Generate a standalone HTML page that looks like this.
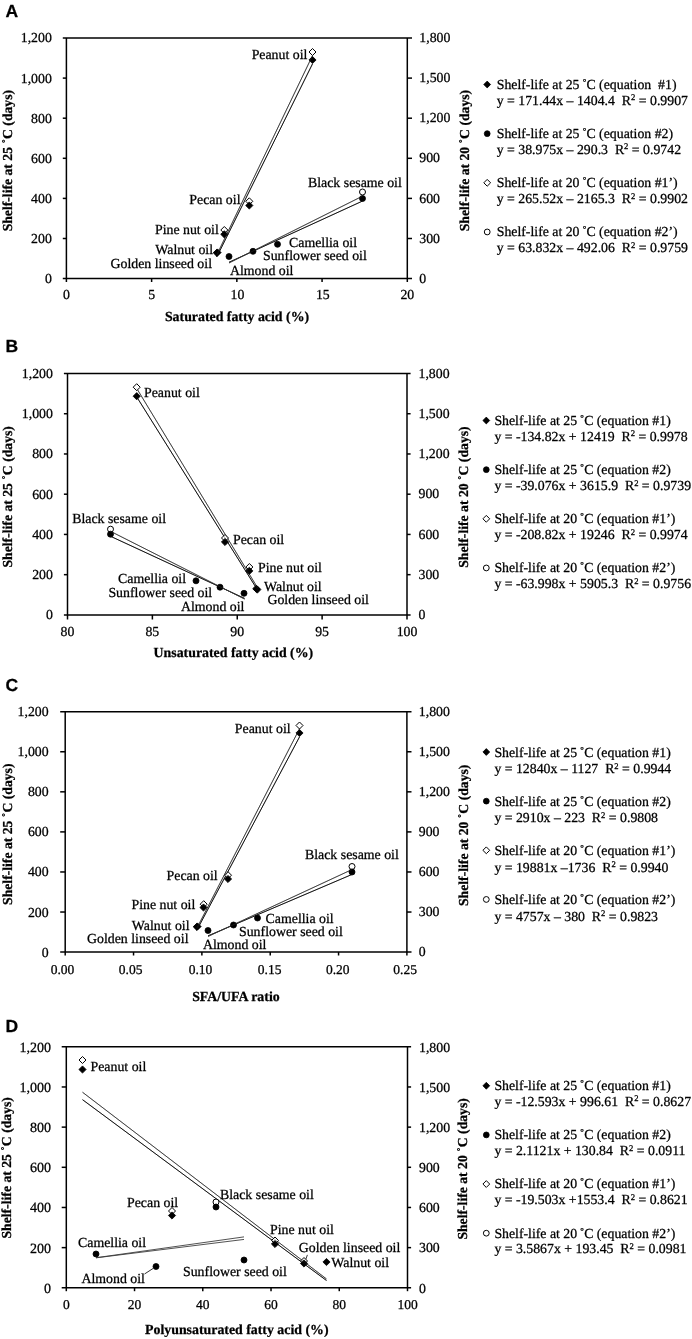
<!DOCTYPE html>
<html lang="en">
<head>
<meta charset="utf-8">
<title>Shelf-life vs fatty acid composition</title>
<style>
html,body{margin:0;padding:0;background:#fff;}
body{width:692px;height:1339px;overflow:hidden;}
svg{display:block;}
text{fill:#000;font-family:"Liberation Serif", "DejaVu Serif", serif;font-size:13.8px;white-space:pre;text-rendering:geometricPrecision;stroke:#000;stroke-width:0.26px;stroke-linejoin:round;}
text.b{font-weight:bold;font-size:13.7px;}
text.l{font-size:13.85px;}
text.p{font-family:"Liberation Sans", "DejaVu Sans", sans-serif;font-weight:bold;font-size:17.5px;fill:#000;}
.sup{font-size:8.6px;}
</style>
</head>
<body>
<svg width="692" height="1339" viewBox="0 0 692 1339">
<rect x="0" y="0" width="692" height="1339" fill="#fff"/>
<g id="panel-A">
<text class="p" x="5.50" y="16.50">A</text>
<line x1="62.80" y1="38.00" x2="412.00" y2="38.00" stroke="#000" stroke-width="1.5"/>
<line x1="62.80" y1="278.60" x2="412.00" y2="278.60" stroke="#000" stroke-width="1.5"/>
<line x1="66.40" y1="38.00" x2="66.40" y2="282.00" stroke="#000" stroke-width="1.5"/>
<line x1="407.30" y1="38.00" x2="407.30" y2="282.00" stroke="#000" stroke-width="1.5"/>
<text class="r" x="51.80" y="42.40" text-anchor="end">1,200</text>
<text class="r" x="419.30" y="42.10">1,800</text>
<line x1="62.80" y1="78.10" x2="66.40" y2="78.10" stroke="#000" stroke-width="1.5"/>
<line x1="407.30" y1="78.10" x2="412.00" y2="78.10" stroke="#000" stroke-width="1.5"/>
<text class="r" x="51.80" y="82.50" text-anchor="end">1,000</text>
<text class="r" x="419.30" y="82.20">1,500</text>
<line x1="62.80" y1="118.20" x2="66.40" y2="118.20" stroke="#000" stroke-width="1.5"/>
<line x1="407.30" y1="118.20" x2="412.00" y2="118.20" stroke="#000" stroke-width="1.5"/>
<text class="r" x="51.80" y="122.60" text-anchor="end">800</text>
<text class="r" x="419.30" y="122.30">1,200</text>
<line x1="62.80" y1="158.30" x2="66.40" y2="158.30" stroke="#000" stroke-width="1.5"/>
<line x1="407.30" y1="158.30" x2="412.00" y2="158.30" stroke="#000" stroke-width="1.5"/>
<text class="r" x="51.80" y="162.70" text-anchor="end">600</text>
<text class="r" x="419.30" y="162.40">900</text>
<line x1="62.80" y1="198.40" x2="66.40" y2="198.40" stroke="#000" stroke-width="1.5"/>
<line x1="407.30" y1="198.40" x2="412.00" y2="198.40" stroke="#000" stroke-width="1.5"/>
<text class="r" x="51.80" y="202.80" text-anchor="end">400</text>
<text class="r" x="419.30" y="202.50">600</text>
<line x1="62.80" y1="238.50" x2="66.40" y2="238.50" stroke="#000" stroke-width="1.5"/>
<line x1="407.30" y1="238.50" x2="412.00" y2="238.50" stroke="#000" stroke-width="1.5"/>
<text class="r" x="51.80" y="242.90" text-anchor="end">200</text>
<text class="r" x="419.30" y="242.60">300</text>
<text class="r" x="51.80" y="283.00" text-anchor="end">0</text>
<text class="r" x="419.30" y="282.70">0</text>
<text class="r" x="66.40" y="298.60" text-anchor="middle">0</text>
<line x1="151.62" y1="278.60" x2="151.62" y2="282.00" stroke="#000" stroke-width="1.5"/>
<text class="r" x="151.70" y="298.60" text-anchor="middle">5</text>
<line x1="236.85" y1="278.60" x2="236.85" y2="282.00" stroke="#000" stroke-width="1.5"/>
<text class="r" x="237.50" y="298.60" text-anchor="middle">10</text>
<line x1="322.07" y1="278.60" x2="322.07" y2="282.00" stroke="#000" stroke-width="1.5"/>
<text class="r" x="322.80" y="298.60" text-anchor="middle">15</text>
<text class="r" x="407.30" y="298.60" text-anchor="middle">20</text>
<text class="b" text-anchor="middle" transform="translate(12.10 160.65) rotate(-90)">Shelf-life at 25 ˚C (days)</text>
<text class="b" text-anchor="middle" transform="translate(468.75 160.55) rotate(-90)">Shelf-life at 20 ˚C (days)</text>
<text class="b" x="237.00" y="320.80" text-anchor="middle" style="font-size:13.85px">Saturated fatty acid (%)</text>
<line x1="216.80" y1="256.88" x2="312.50" y2="63.89" stroke="#141414" stroke-width="1.0"/>
<line x1="216.80" y1="254.86" x2="312.50" y2="55.60" stroke="#3c3c3c" stroke-width="0.95"/>
<line x1="229.00" y1="262.26" x2="362.50" y2="201.05" stroke="#141414" stroke-width="1.0"/>
<line x1="229.00" y1="262.98" x2="362.50" y2="196.15" stroke="#3c3c3c" stroke-width="0.95"/>
<path d="M312.50 48.50L316.00 52.00L312.50 55.50L309.00 52.00Z" fill="#fff" stroke="#000" stroke-width="1.0"/>
<path d="M312.50 56.40L316.10 60.00L312.50 63.60L308.90 60.00Z" fill="#000" stroke="#000" stroke-width="0.8"/>
<path d="M249.30 197.80L252.80 201.30L249.30 204.80L245.80 201.30Z" fill="#fff" stroke="#000" stroke-width="1.0"/>
<path d="M249.30 201.90L252.90 205.50L249.30 209.10L245.70 205.50Z" fill="#000" stroke="#000" stroke-width="0.8"/>
<path d="M224.30 226.50L227.80 230.00L224.30 233.50L220.80 230.00Z" fill="#fff" stroke="#000" stroke-width="1.0"/>
<path d="M224.30 230.70L227.90 234.30L224.30 237.90L220.70 234.30Z" fill="#000" stroke="#000" stroke-width="0.8"/>
<path d="M217.50 248.90L221.10 252.50L217.50 256.10L213.90 252.50Z" fill="#000" stroke="#000" stroke-width="0.8"/>
<path d="M216.80 249.20L220.40 252.80L216.80 256.40L213.20 252.80Z" fill="#000" stroke="#000" stroke-width="0.8"/>
<circle cx="229.00" cy="256.50" r="3.0" fill="#000" stroke="#000" stroke-width="0.8"/>
<circle cx="253.00" cy="251.30" r="3.0" fill="#000" stroke="#000" stroke-width="0.8"/>
<circle cx="277.50" cy="244.30" r="3.0" fill="#000" stroke="#000" stroke-width="0.8"/>
<circle cx="362.50" cy="192.00" r="3.0" fill="#fff" stroke="#000" stroke-width="1.0"/>
<circle cx="362.50" cy="198.50" r="3.0" fill="#000" stroke="#000" stroke-width="0.8"/>
<line x1="216.80" y1="256.88" x2="312.50" y2="63.89" stroke="#141414" stroke-width="0.6" stroke-opacity="0.55"/>
<line x1="216.80" y1="254.86" x2="312.50" y2="55.60" stroke="#3c3c3c" stroke-width="0.57" stroke-opacity="0.55"/>
<line x1="229.00" y1="262.26" x2="362.50" y2="201.05" stroke="#141414" stroke-width="0.6" stroke-opacity="0.55"/>
<line x1="229.00" y1="262.98" x2="362.50" y2="196.15" stroke="#3c3c3c" stroke-width="0.57" stroke-opacity="0.55"/>
<text class="l" x="307.40" y="58.50" text-anchor="end">Peanut oil</text>
<text class="l" x="240.50" y="204.00" text-anchor="end">Pecan oil</text>
<text class="l" x="218.80" y="233.50" text-anchor="end">Pine nut oil</text>
<text class="l" x="213.00" y="254.00" text-anchor="end">Walnut oil</text>
<text class="l" x="212.00" y="268.00" text-anchor="end">Golden linseed oil</text>
<text class="l" x="230.00" y="275.00">Almond oil</text>
<text class="l" x="263.00" y="260.00">Sunflower seed oil</text>
<text class="l" x="289.00" y="247.00">Camellia oil</text>
<text class="l" x="308.00" y="187.00">Black sesame oil</text>
<path d="M487.20 81.10L490.60 84.50L487.20 87.90L483.80 84.50Z" fill="#000" stroke="#000" stroke-width="0.8"/>
<text class="r" x="496.75" y="88.80">Shelf-life at 25 <tspan dx="-0.8">˚</tspan><tspan dx="-0.3">C</tspan> (equation  #1)</text>
<text class="r" x="496.75" y="104.85">y = 171.44x – 1404.4  R<tspan class="sup" dy="-4.6">2</tspan><tspan dy="4.6"> = 0.9907</tspan></text>
<circle cx="487.20" cy="133.65" r="2.9" fill="#000" stroke="#000" stroke-width="0.8"/>
<text class="r" x="496.75" y="137.95">Shelf-life at 25 <tspan dx="-0.8">˚</tspan><tspan dx="-0.3">C</tspan> (equation #2)</text>
<text class="r" x="496.75" y="154.00">y = 38.975x – 290.3  R<tspan class="sup" dy="-4.6">2</tspan><tspan dy="4.6"> = 0.9742</tspan></text>
<path d="M487.20 179.40L490.60 182.80L487.20 186.20L483.80 182.80Z" fill="#fff" stroke="#000" stroke-width="1.0"/>
<text class="r" x="496.75" y="187.10">Shelf-life at 20 <tspan dx="-0.8">˚</tspan><tspan dx="-0.3">C</tspan> (equation #1’)</text>
<text class="r" x="496.75" y="203.15">y = 265.52x – 2165.3  R<tspan class="sup" dy="-4.6">2</tspan><tspan dy="4.6"> = 0.9902</tspan></text>
<circle cx="487.20" cy="231.95" r="2.9" fill="#fff" stroke="#000" stroke-width="1.0"/>
<text class="r" x="496.75" y="236.25">Shelf-life at 20 <tspan dx="-0.8">˚</tspan><tspan dx="-0.3">C</tspan> (equation #2’)</text>
<text class="r" x="496.75" y="252.30">y = 63.832x – 492.06  R<tspan class="sup" dy="-4.6">2</tspan><tspan dy="4.6"> = 0.9759</tspan></text>
</g>
<g id="panel-B">
<text class="p" x="5.50" y="352.20">B</text>
<line x1="63.90" y1="373.50" x2="410.60" y2="373.50" stroke="#000" stroke-width="1.5"/>
<line x1="63.90" y1="614.90" x2="410.60" y2="614.90" stroke="#000" stroke-width="1.5"/>
<line x1="67.50" y1="373.50" x2="67.50" y2="619.50" stroke="#000" stroke-width="1.5"/>
<line x1="407.00" y1="373.50" x2="407.00" y2="619.50" stroke="#000" stroke-width="1.5"/>
<text class="r" x="52.90" y="377.90" text-anchor="end">1,200</text>
<text class="r" x="418.50" y="377.60">1,800</text>
<line x1="63.90" y1="413.73" x2="67.50" y2="413.73" stroke="#000" stroke-width="1.5"/>
<line x1="407.00" y1="413.73" x2="410.60" y2="413.73" stroke="#000" stroke-width="1.5"/>
<text class="r" x="52.90" y="418.13" text-anchor="end">1,000</text>
<text class="r" x="418.50" y="417.83">1,500</text>
<line x1="63.90" y1="453.97" x2="67.50" y2="453.97" stroke="#000" stroke-width="1.5"/>
<line x1="407.00" y1="453.97" x2="410.60" y2="453.97" stroke="#000" stroke-width="1.5"/>
<text class="r" x="52.90" y="458.37" text-anchor="end">800</text>
<text class="r" x="418.50" y="458.07">1,200</text>
<line x1="63.90" y1="494.20" x2="67.50" y2="494.20" stroke="#000" stroke-width="1.5"/>
<line x1="407.00" y1="494.20" x2="410.60" y2="494.20" stroke="#000" stroke-width="1.5"/>
<text class="r" x="52.90" y="498.60" text-anchor="end">600</text>
<text class="r" x="418.50" y="498.30">900</text>
<line x1="63.90" y1="534.43" x2="67.50" y2="534.43" stroke="#000" stroke-width="1.5"/>
<line x1="407.00" y1="534.43" x2="410.60" y2="534.43" stroke="#000" stroke-width="1.5"/>
<text class="r" x="52.90" y="538.83" text-anchor="end">400</text>
<text class="r" x="418.50" y="538.53">600</text>
<line x1="63.90" y1="574.67" x2="67.50" y2="574.67" stroke="#000" stroke-width="1.5"/>
<line x1="407.00" y1="574.67" x2="410.60" y2="574.67" stroke="#000" stroke-width="1.5"/>
<text class="r" x="52.90" y="579.07" text-anchor="end">200</text>
<text class="r" x="418.50" y="578.77">300</text>
<text class="r" x="52.90" y="619.30" text-anchor="end">0</text>
<text class="r" x="418.50" y="619.00">0</text>
<text class="r" x="67.50" y="636.00" text-anchor="middle">80</text>
<line x1="152.38" y1="614.90" x2="152.38" y2="619.50" stroke="#000" stroke-width="1.5"/>
<text class="r" x="152.38" y="636.00" text-anchor="middle">85</text>
<line x1="237.25" y1="614.90" x2="237.25" y2="619.50" stroke="#000" stroke-width="1.5"/>
<text class="r" x="237.25" y="636.00" text-anchor="middle">90</text>
<line x1="322.12" y1="614.90" x2="322.12" y2="619.50" stroke="#000" stroke-width="1.5"/>
<text class="r" x="322.12" y="636.00" text-anchor="middle">95</text>
<text class="r" x="407.00" y="636.00" text-anchor="middle">100</text>
<text class="b" text-anchor="middle" transform="translate(12.10 496.80) rotate(-90)">Shelf-life at 25 ˚C (days)</text>
<text class="b" text-anchor="middle" transform="translate(467.90 497.10) rotate(-90)">Shelf-life at 20 ˚C (days)</text>
<text class="b" x="233.40" y="656.80" text-anchor="middle" style="font-size:13.85px">Unsaturated fatty acid (%)</text>
<line x1="136.70" y1="396.88" x2="257.80" y2="590.36" stroke="#141414" stroke-width="1.0"/>
<line x1="136.70" y1="388.37" x2="257.80" y2="588.16" stroke="#3c3c3c" stroke-width="0.95"/>
<line x1="110.50" y1="536.28" x2="244.60" y2="598.38" stroke="#141414" stroke-width="1.0"/>
<line x1="110.50" y1="531.30" x2="244.60" y2="599.11" stroke="#3c3c3c" stroke-width="0.95"/>
<path d="M136.70 383.70L140.20 387.20L136.70 390.70L133.20 387.20Z" fill="#fff" stroke="#000" stroke-width="1.0"/>
<path d="M136.70 392.60L140.30 396.20L136.70 399.80L133.10 396.20Z" fill="#000" stroke="#000" stroke-width="0.8"/>
<path d="M225.00 534.50L228.50 538.00L225.00 541.50L221.50 538.00Z" fill="#fff" stroke="#000" stroke-width="1.0"/>
<path d="M225.00 538.40L228.60 542.00L225.00 545.60L221.40 542.00Z" fill="#000" stroke="#000" stroke-width="0.8"/>
<path d="M249.40 563.50L252.90 567.00L249.40 570.50L245.90 567.00Z" fill="#fff" stroke="#000" stroke-width="1.0"/>
<path d="M249.30 567.30L252.90 570.90L249.30 574.50L245.70 570.90Z" fill="#000" stroke="#000" stroke-width="0.8"/>
<path d="M256.30 585.10L259.90 588.70L256.30 592.30L252.70 588.70Z" fill="#000" stroke="#000" stroke-width="0.8"/>
<path d="M257.30 586.00L260.90 589.60L257.30 593.20L253.70 589.60Z" fill="#000" stroke="#000" stroke-width="0.8"/>
<circle cx="244.00" cy="593.30" r="3.0" fill="#000" stroke="#000" stroke-width="0.8"/>
<circle cx="220.00" cy="587.20" r="3.0" fill="#000" stroke="#000" stroke-width="0.8"/>
<circle cx="196.00" cy="580.80" r="3.0" fill="#000" stroke="#000" stroke-width="0.8"/>
<circle cx="110.50" cy="529.20" r="3.0" fill="#fff" stroke="#000" stroke-width="1.0"/>
<circle cx="110.50" cy="534.20" r="3.0" fill="#000" stroke="#000" stroke-width="0.8"/>
<line x1="136.70" y1="396.88" x2="257.80" y2="590.36" stroke="#141414" stroke-width="0.6" stroke-opacity="0.55"/>
<line x1="136.70" y1="388.37" x2="257.80" y2="588.16" stroke="#3c3c3c" stroke-width="0.57" stroke-opacity="0.55"/>
<line x1="110.50" y1="536.28" x2="244.60" y2="598.38" stroke="#141414" stroke-width="0.6" stroke-opacity="0.55"/>
<line x1="110.50" y1="531.30" x2="244.60" y2="599.11" stroke="#3c3c3c" stroke-width="0.57" stroke-opacity="0.55"/>
<text class="l" x="144.00" y="396.50">Peanut oil</text>
<text class="l" x="233.00" y="544.00">Pecan oil</text>
<text class="l" x="258.00" y="572.00">Pine nut oil</text>
<text class="l" x="264.00" y="591.00">Walnut oil</text>
<text class="l" x="267.40" y="604.00">Golden linseed oil</text>
<text class="l" x="181.00" y="610.50">Almond oil</text>
<text class="l" x="108.40" y="597.00">Sunflower seed oil</text>
<text class="l" x="118.00" y="583.00">Camellia oil</text>
<text class="l" x="72.20" y="522.50">Black sesame oil</text>
<path d="M486.30 417.10L489.70 420.50L486.30 423.90L482.90 420.50Z" fill="#000" stroke="#000" stroke-width="0.8"/>
<text class="r" x="494.40" y="424.80">Shelf-life at 25 <tspan dx="-0.8">˚</tspan><tspan dx="-0.3">C</tspan> (equation #1)</text>
<text class="r" x="494.40" y="440.95">y = -134.82x + 12419  R<tspan class="sup" dy="-4.6">2</tspan><tspan dy="4.6"> = 0.9978</tspan></text>
<circle cx="486.30" cy="469.65" r="2.9" fill="#000" stroke="#000" stroke-width="0.8"/>
<text class="r" x="494.40" y="473.95">Shelf-life at 25 <tspan dx="-0.8">˚</tspan><tspan dx="-0.3">C</tspan> (equation #2)</text>
<text class="r" x="494.40" y="490.10">y = -39.076x + 3615.9  R<tspan class="sup" dy="-4.6">2</tspan><tspan dy="4.6"> = 0.9739</tspan></text>
<path d="M486.30 515.40L489.70 518.80L486.30 522.20L482.90 518.80Z" fill="#fff" stroke="#000" stroke-width="1.0"/>
<text class="r" x="494.40" y="523.10">Shelf-life at 20 <tspan dx="-0.8">˚</tspan><tspan dx="-0.3">C</tspan> (equation #1’)</text>
<text class="r" x="494.40" y="539.25">y = -208.82x + 19246  R<tspan class="sup" dy="-4.6">2</tspan><tspan dy="4.6"> = 0.9974</tspan></text>
<circle cx="486.30" cy="567.95" r="2.9" fill="#fff" stroke="#000" stroke-width="1.0"/>
<text class="r" x="494.40" y="572.25">Shelf-life at 20 <tspan dx="-0.8">˚</tspan><tspan dx="-0.3">C</tspan> (equation #2’)</text>
<text class="r" x="494.40" y="588.40">y = -63.998x + 5905.3  R<tspan class="sup" dy="-4.6">2</tspan><tspan dy="4.6"> = 0.9756</tspan></text>
</g>
<g id="panel-C">
<text class="p" x="5.50" y="690.60">C</text>
<line x1="60.20" y1="711.70" x2="411.50" y2="711.70" stroke="#000" stroke-width="1.5"/>
<line x1="60.20" y1="952.10" x2="411.50" y2="952.10" stroke="#000" stroke-width="1.5"/>
<line x1="65.20" y1="711.70" x2="65.20" y2="955.50" stroke="#000" stroke-width="1.5"/>
<line x1="406.90" y1="711.70" x2="406.90" y2="955.50" stroke="#000" stroke-width="1.5"/>
<text class="r" x="48.60" y="716.20" text-anchor="end">1,200</text>
<text class="r" x="418.80" y="715.90">1,800</text>
<line x1="60.20" y1="751.77" x2="65.20" y2="751.77" stroke="#000" stroke-width="1.5"/>
<line x1="406.90" y1="751.77" x2="411.50" y2="751.77" stroke="#000" stroke-width="1.5"/>
<text class="r" x="48.60" y="756.27" text-anchor="end">1,000</text>
<text class="r" x="418.80" y="755.97">1,500</text>
<line x1="60.20" y1="791.83" x2="65.20" y2="791.83" stroke="#000" stroke-width="1.5"/>
<line x1="406.90" y1="791.83" x2="411.50" y2="791.83" stroke="#000" stroke-width="1.5"/>
<text class="r" x="48.60" y="796.33" text-anchor="end">800</text>
<text class="r" x="418.80" y="796.03">1,200</text>
<line x1="60.20" y1="831.90" x2="65.20" y2="831.90" stroke="#000" stroke-width="1.5"/>
<line x1="406.90" y1="831.90" x2="411.50" y2="831.90" stroke="#000" stroke-width="1.5"/>
<text class="r" x="48.60" y="836.40" text-anchor="end">600</text>
<text class="r" x="418.80" y="836.10">900</text>
<line x1="60.20" y1="871.97" x2="65.20" y2="871.97" stroke="#000" stroke-width="1.5"/>
<line x1="406.90" y1="871.97" x2="411.50" y2="871.97" stroke="#000" stroke-width="1.5"/>
<text class="r" x="48.60" y="876.47" text-anchor="end">400</text>
<text class="r" x="418.80" y="876.17">600</text>
<line x1="60.20" y1="912.03" x2="65.20" y2="912.03" stroke="#000" stroke-width="1.5"/>
<line x1="406.90" y1="912.03" x2="411.50" y2="912.03" stroke="#000" stroke-width="1.5"/>
<text class="r" x="48.60" y="916.53" text-anchor="end">200</text>
<text class="r" x="418.80" y="916.23">300</text>
<text class="r" x="48.60" y="956.60" text-anchor="end">0</text>
<text class="r" x="418.80" y="956.30">0</text>
<text class="r" x="62.50" y="973.90" text-anchor="middle" style="font-size:13.5px">0.00</text>
<line x1="133.54" y1="952.10" x2="133.54" y2="955.50" stroke="#000" stroke-width="1.5"/>
<text class="r" x="130.60" y="973.90" text-anchor="middle" style="font-size:13.5px">0.05</text>
<line x1="201.88" y1="952.10" x2="201.88" y2="955.50" stroke="#000" stroke-width="1.5"/>
<text class="r" x="200.50" y="973.90" text-anchor="middle" style="font-size:13.5px">0.10</text>
<line x1="270.22" y1="952.10" x2="270.22" y2="955.50" stroke="#000" stroke-width="1.5"/>
<text class="r" x="269.60" y="973.90" text-anchor="middle" style="font-size:13.5px">0.15</text>
<line x1="338.56" y1="952.10" x2="338.56" y2="955.50" stroke="#000" stroke-width="1.5"/>
<text class="r" x="337.70" y="973.90" text-anchor="middle" style="font-size:13.5px">0.20</text>
<text class="r" x="405.10" y="973.90" text-anchor="middle" style="font-size:13.5px">0.25</text>
<text class="b" text-anchor="middle" transform="translate(12.10 834.25) rotate(-90)">Shelf-life at 25 ˚C (days)</text>
<text class="b" text-anchor="middle" transform="translate(467.60 835.30) rotate(-90)">Shelf-life at 20 ˚C (days)</text>
<text class="b" x="235.90" y="1001.25" text-anchor="middle" style="font-size:13.85px">SFA/UFA ratio</text>
<line x1="196.80" y1="930.21" x2="299.50" y2="736.93" stroke="#141414" stroke-width="1.0"/>
<line x1="196.80" y1="928.30" x2="299.50" y2="728.79" stroke="#3c3c3c" stroke-width="0.95"/>
<line x1="208.00" y1="935.87" x2="352.00" y2="874.45" stroke="#141414" stroke-width="1.0"/>
<line x1="208.00" y1="936.47" x2="352.00" y2="869.54" stroke="#3c3c3c" stroke-width="0.95"/>
<path d="M299.50 722.00L303.00 725.50L299.50 729.00L296.00 725.50Z" fill="#fff" stroke="#000" stroke-width="1.0"/>
<path d="M299.50 729.40L303.10 733.00L299.50 736.60L295.90 733.00Z" fill="#000" stroke="#000" stroke-width="0.8"/>
<path d="M228.00 871.70L231.50 875.20L228.00 878.70L224.50 875.20Z" fill="#fff" stroke="#000" stroke-width="1.0"/>
<path d="M228.00 875.40L231.60 879.00L228.00 882.60L224.40 879.00Z" fill="#000" stroke="#000" stroke-width="0.8"/>
<path d="M203.70 900.70L207.20 904.20L203.70 907.70L200.20 904.20Z" fill="#fff" stroke="#000" stroke-width="1.0"/>
<path d="M203.50 903.90L207.10 907.50L203.50 911.10L199.90 907.50Z" fill="#000" stroke="#000" stroke-width="0.8"/>
<path d="M197.50 922.90L201.10 926.50L197.50 930.10L193.90 926.50Z" fill="#000" stroke="#000" stroke-width="0.8"/>
<path d="M196.80 923.20L200.40 926.80L196.80 930.40L193.20 926.80Z" fill="#000" stroke="#000" stroke-width="0.8"/>
<circle cx="208.00" cy="930.50" r="3.0" fill="#000" stroke="#000" stroke-width="0.8"/>
<circle cx="233.50" cy="925.00" r="3.0" fill="#000" stroke="#000" stroke-width="0.8"/>
<circle cx="257.50" cy="918.00" r="3.0" fill="#000" stroke="#000" stroke-width="0.8"/>
<circle cx="352.00" cy="866.50" r="3.0" fill="#fff" stroke="#000" stroke-width="1.0"/>
<circle cx="352.00" cy="872.00" r="3.0" fill="#000" stroke="#000" stroke-width="0.8"/>
<line x1="196.80" y1="930.21" x2="299.50" y2="736.93" stroke="#141414" stroke-width="0.6" stroke-opacity="0.55"/>
<line x1="196.80" y1="928.30" x2="299.50" y2="728.79" stroke="#3c3c3c" stroke-width="0.57" stroke-opacity="0.55"/>
<line x1="208.00" y1="935.87" x2="352.00" y2="874.45" stroke="#141414" stroke-width="0.6" stroke-opacity="0.55"/>
<line x1="208.00" y1="936.47" x2="352.00" y2="869.54" stroke="#3c3c3c" stroke-width="0.57" stroke-opacity="0.55"/>
<text class="l" x="290.60" y="733.00" text-anchor="end">Peanut oil</text>
<text class="l" x="217.70" y="879.50" text-anchor="end">Pecan oil</text>
<text class="l" x="195.30" y="909.00" text-anchor="end">Pine nut oil</text>
<text class="l" x="189.50" y="929.50" text-anchor="end">Walnut oil</text>
<text class="l" x="188.50" y="943.30" text-anchor="end">Golden linseed oil</text>
<text class="l" x="203.00" y="948.80">Almond oil</text>
<text class="l" x="239.00" y="936.00">Sunflower seed oil</text>
<text class="l" x="265.60" y="923.00">Camellia oil</text>
<text class="l" x="305.00" y="859.00">Black sesame oil</text>
<path d="M486.30 748.60L489.70 752.00L486.30 755.40L482.90 752.00Z" fill="#000" stroke="#000" stroke-width="0.8"/>
<text class="r" x="494.40" y="756.80">Shelf-life at 25 <tspan dx="-0.8">˚</tspan><tspan dx="-0.3">C</tspan> (equation #1)</text>
<text class="r" x="494.40" y="773.30">y = 12840x – 1127  R<tspan class="sup" dy="-4.6">2</tspan><tspan dy="4.6"> = 0.9944</tspan></text>
<circle cx="486.30" cy="801.15" r="2.9" fill="#000" stroke="#000" stroke-width="0.8"/>
<text class="r" x="494.40" y="805.95">Shelf-life at 25 <tspan dx="-0.8">˚</tspan><tspan dx="-0.3">C</tspan> (equation #2)</text>
<text class="r" x="494.40" y="822.45">y = 2910x – 223  R<tspan class="sup" dy="-4.6">2</tspan><tspan dy="4.6"> = 0.9808</tspan></text>
<path d="M486.30 846.90L489.70 850.30L486.30 853.70L482.90 850.30Z" fill="#fff" stroke="#000" stroke-width="1.0"/>
<text class="r" x="494.40" y="855.10">Shelf-life at 20 <tspan dx="-0.8">˚</tspan><tspan dx="-0.3">C</tspan> (equation #1’)</text>
<text class="r" x="494.40" y="871.60">y = 19881x –1736  R<tspan class="sup" dy="-4.6">2</tspan><tspan dy="4.6"> = 0.9940</tspan></text>
<circle cx="486.30" cy="899.45" r="2.9" fill="#fff" stroke="#000" stroke-width="1.0"/>
<text class="r" x="494.40" y="904.25">Shelf-life at 20 <tspan dx="-0.8">˚</tspan><tspan dx="-0.3">C</tspan> (equation #2’)</text>
<text class="r" x="494.40" y="920.75">y = 4757x – 380  R<tspan class="sup" dy="-4.6">2</tspan><tspan dy="4.6"> = 0.9823</tspan></text>
</g>
<g id="panel-D">
<text class="p" x="5.50" y="1032.40">D</text>
<line x1="61.70" y1="1046.80" x2="411.10" y2="1046.80" stroke="#000" stroke-width="1.5"/>
<line x1="61.70" y1="1287.80" x2="411.10" y2="1287.80" stroke="#000" stroke-width="1.5"/>
<line x1="66.30" y1="1046.80" x2="66.30" y2="1291.20" stroke="#000" stroke-width="1.5"/>
<line x1="407.50" y1="1046.80" x2="407.50" y2="1291.20" stroke="#000" stroke-width="1.5"/>
<text class="r" x="51.10" y="1051.80" text-anchor="end" style="font-size:14.05px">1,200</text>
<text class="r" x="419.00" y="1051.60">1,800</text>
<line x1="61.70" y1="1086.97" x2="66.30" y2="1086.97" stroke="#000" stroke-width="1.5"/>
<line x1="407.50" y1="1086.97" x2="411.10" y2="1086.97" stroke="#000" stroke-width="1.5"/>
<text class="r" x="51.10" y="1091.97" text-anchor="end" style="font-size:14.05px">1,000</text>
<text class="r" x="419.00" y="1091.77">1,500</text>
<line x1="61.70" y1="1127.13" x2="66.30" y2="1127.13" stroke="#000" stroke-width="1.5"/>
<line x1="407.50" y1="1127.13" x2="411.10" y2="1127.13" stroke="#000" stroke-width="1.5"/>
<text class="r" x="51.10" y="1132.13" text-anchor="end" style="font-size:14.05px">800</text>
<text class="r" x="419.00" y="1131.93">1,200</text>
<line x1="61.70" y1="1167.30" x2="66.30" y2="1167.30" stroke="#000" stroke-width="1.5"/>
<line x1="407.50" y1="1167.30" x2="411.10" y2="1167.30" stroke="#000" stroke-width="1.5"/>
<text class="r" x="51.10" y="1172.30" text-anchor="end" style="font-size:14.05px">600</text>
<text class="r" x="419.00" y="1172.10">900</text>
<line x1="61.70" y1="1207.47" x2="66.30" y2="1207.47" stroke="#000" stroke-width="1.5"/>
<line x1="407.50" y1="1207.47" x2="411.10" y2="1207.47" stroke="#000" stroke-width="1.5"/>
<text class="r" x="51.10" y="1212.47" text-anchor="end" style="font-size:14.05px">400</text>
<text class="r" x="419.00" y="1212.27">600</text>
<line x1="61.70" y1="1247.63" x2="66.30" y2="1247.63" stroke="#000" stroke-width="1.5"/>
<line x1="407.50" y1="1247.63" x2="411.10" y2="1247.63" stroke="#000" stroke-width="1.5"/>
<text class="r" x="51.10" y="1252.63" text-anchor="end" style="font-size:14.05px">200</text>
<text class="r" x="419.00" y="1252.43">300</text>
<text class="r" x="51.10" y="1292.80" text-anchor="end" style="font-size:14.05px">0</text>
<text class="r" x="419.00" y="1292.60">0</text>
<text class="r" x="66.30" y="1309.30" text-anchor="middle" style="font-size:13.5px">0</text>
<line x1="134.54" y1="1287.80" x2="134.54" y2="1291.20" stroke="#000" stroke-width="1.5"/>
<text class="r" x="134.54" y="1309.30" text-anchor="middle" style="font-size:13.5px">20</text>
<line x1="202.78" y1="1287.80" x2="202.78" y2="1291.20" stroke="#000" stroke-width="1.5"/>
<text class="r" x="202.78" y="1309.30" text-anchor="middle" style="font-size:13.5px">40</text>
<line x1="271.02" y1="1287.80" x2="271.02" y2="1291.20" stroke="#000" stroke-width="1.5"/>
<text class="r" x="271.02" y="1309.30" text-anchor="middle" style="font-size:13.5px">60</text>
<line x1="339.26" y1="1287.80" x2="339.26" y2="1291.20" stroke="#000" stroke-width="1.5"/>
<text class="r" x="339.26" y="1309.30" text-anchor="middle" style="font-size:13.5px">80</text>
<text class="r" x="407.50" y="1309.30" text-anchor="middle" style="font-size:13.5px">100</text>
<text class="b" text-anchor="middle" transform="translate(11.30 1167.80) rotate(-90)">Shelf-life at 25 ˚C (days)</text>
<text class="b" text-anchor="middle" transform="translate(466.80 1168.90) rotate(-90)">Shelf-life at 20 ˚C (days)</text>
<text class="b" x="236.80" y="1333.60" text-anchor="middle" style="font-size:13.85px">Polyunsaturated fatty acid (%)</text>
<line x1="144.50" y1="1274.00" x2="153.00" y2="1268.50" stroke="#000" stroke-width="0.8"/>
<line x1="307.40" y1="1254.90" x2="305.80" y2="1259.30" stroke="#000" stroke-width="0.8"/>
<line x1="82.50" y1="1099.66" x2="326.50" y2="1280.52" stroke="#141414" stroke-width="1.0"/>
<line x1="82.50" y1="1092.22" x2="326.50" y2="1278.95" stroke="#3c3c3c" stroke-width="0.95"/>
<line x1="96.00" y1="1257.83" x2="244.00" y2="1239.43" stroke="#333" stroke-width="0.85"/>
<line x1="96.00" y1="1257.72" x2="244.00" y2="1236.89" stroke="#333" stroke-width="0.85"/>
<path d="M82.50 1056.50L86.00 1060.00L82.50 1063.50L79.00 1060.00Z" fill="#fff" stroke="#000" stroke-width="1.0"/>
<path d="M82.50 1065.90L86.10 1069.50L82.50 1073.10L78.90 1069.50Z" fill="#000" stroke="#000" stroke-width="0.8"/>
<path d="M172.00 1207.50L175.50 1211.00L172.00 1214.50L168.50 1211.00Z" fill="#fff" stroke="#000" stroke-width="1.0"/>
<path d="M172.00 1211.90L175.60 1215.50L172.00 1219.10L168.40 1215.50Z" fill="#000" stroke="#000" stroke-width="0.8"/>
<path d="M275.00 1237.00L278.50 1240.50L275.00 1244.00L271.50 1240.50Z" fill="#fff" stroke="#000" stroke-width="1.0"/>
<path d="M275.00 1240.40L278.60 1244.00L275.00 1247.60L271.40 1244.00Z" fill="#000" stroke="#000" stroke-width="0.8"/>
<path d="M304.00 1257.50L307.50 1261.00L304.00 1264.50L300.50 1261.00Z" fill="#fff" stroke="#000" stroke-width="1.0"/>
<path d="M304.00 1259.90L307.60 1263.50L304.00 1267.10L300.40 1263.50Z" fill="#000" stroke="#000" stroke-width="0.8"/>
<path d="M326.50 1258.40L330.10 1262.00L326.50 1265.60L322.90 1262.00Z" fill="#000" stroke="#000" stroke-width="0.8"/>
<circle cx="156.00" cy="1266.50" r="3.0" fill="#000" stroke="#000" stroke-width="0.8"/>
<circle cx="244.00" cy="1260.00" r="3.0" fill="#000" stroke="#000" stroke-width="0.8"/>
<circle cx="96.00" cy="1254.00" r="3.0" fill="#000" stroke="#000" stroke-width="0.8"/>
<circle cx="216.00" cy="1202.00" r="3.0" fill="#fff" stroke="#000" stroke-width="1.0"/>
<circle cx="216.00" cy="1207.00" r="3.0" fill="#000" stroke="#000" stroke-width="0.8"/>
<line x1="82.50" y1="1099.66" x2="326.50" y2="1280.52" stroke="#141414" stroke-width="0.6" stroke-opacity="0.55"/>
<line x1="82.50" y1="1092.22" x2="326.50" y2="1278.95" stroke="#3c3c3c" stroke-width="0.57" stroke-opacity="0.55"/>
<text class="l" x="90.50" y="1071.20">Peanut oil</text>
<text class="l" x="127.00" y="1206.80">Pecan oil</text>
<text class="l" x="270.00" y="1234.20">Pine nut oil</text>
<text class="l" x="331.30" y="1267.20">Walnut oil</text>
<text class="l" x="298.80" y="1252.20">Golden linseed oil</text>
<text class="l" x="81.50" y="1282.80">Almond oil</text>
<text class="l" x="183.00" y="1276.20">Sunflower seed oil</text>
<text class="l" x="78.00" y="1247.00">Camellia oil</text>
<text class="l" x="220.00" y="1199.20">Black sesame oil</text>
<path d="M486.30 1082.35L489.70 1085.75L486.30 1089.15L482.90 1085.75Z" fill="#000" stroke="#000" stroke-width="0.8"/>
<text class="r" x="494.40" y="1090.05">Shelf-life at 25 <tspan dx="-0.8">˚</tspan><tspan dx="-0.3">C</tspan> (equation #1)</text>
<text class="r" x="494.40" y="1106.00">y = -12.593x + 996.61  R<tspan class="sup" dy="-4.6">2</tspan><tspan dy="4.6"> = 0.8627</tspan></text>
<circle cx="486.30" cy="1134.90" r="2.9" fill="#000" stroke="#000" stroke-width="0.8"/>
<text class="r" x="494.40" y="1139.20">Shelf-life at 25 <tspan dx="-0.8">˚</tspan><tspan dx="-0.3">C</tspan> (equation #2)</text>
<text class="r" x="494.40" y="1155.15">y = 2.1121x + 130.84  R<tspan class="sup" dy="-4.6">2</tspan><tspan dy="4.6"> = 0.0911</tspan></text>
<path d="M486.30 1180.65L489.70 1184.05L486.30 1187.45L482.90 1184.05Z" fill="#fff" stroke="#000" stroke-width="1.0"/>
<text class="r" x="494.40" y="1188.35">Shelf-life at 20 <tspan dx="-0.8">˚</tspan><tspan dx="-0.3">C</tspan> (equation #1’)</text>
<text class="r" x="494.40" y="1204.30">y = -19.503x +1553.4  R<tspan class="sup" dy="-4.6">2</tspan><tspan dy="4.6"> = 0.8621</tspan></text>
<circle cx="486.30" cy="1233.20" r="2.9" fill="#fff" stroke="#000" stroke-width="1.0"/>
<text class="r" x="494.40" y="1237.50">Shelf-life at 20 <tspan dx="-0.8">˚</tspan><tspan dx="-0.3">C</tspan> (equation #2’)</text>
<text class="r" x="494.40" y="1253.45">y = 3.5867x + 193.45  R<tspan class="sup" dy="-4.6">2</tspan><tspan dy="4.6"> = 0.0981</tspan></text>
</g>
</svg>
</body>
</html>
